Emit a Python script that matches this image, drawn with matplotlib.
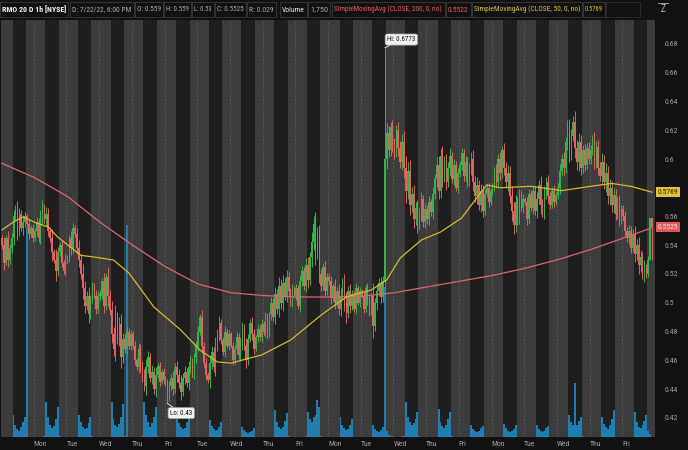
import matplotlib
matplotlib.use('Agg')
import matplotlib.pyplot as plt
from matplotlib import font_manager
from matplotlib.patches import Rectangle
from matplotlib.lines import Line2D
from matplotlib.transforms import blended_transform_factory
import numpy as np

# ---------------- data ----------------
day_names = ['Fri', 'Mon', 'Tue', 'Wed', 'Thu', 'Fri', 'Tue', 'Wed', 'Thu', 'Fri',
             'Mon', 'Tue', 'Wed', 'Thu', 'Fri', 'Mon', 'Tue', 'Wed', 'Thu', 'Fri']

# hourly closes (thousandths of $), 17 slots per day: 6 pre, 7 regular, 4 after
c_0624 = [540, 528, 545, 530, 538, 545, 560, 565, 550, 562, 552, 556, 560, 555, 548, 552, 545]
c_0627 = [550, 556, 545, 560, 566, 558, 562, 550, 545, 535, 530, 522, 535, 540, 528, 522, 530]
c_0628 = [530, 545, 538, 552, 548, 538, 530, 520, 510, 498, 505, 492, 502, 512, 505, 496, 505]
c_0629 = [505, 515, 498, 518, 505, 495, 478, 468, 490, 475, 485, 462, 475, 468, 480, 470, 478]
c_0630 = [470, 460, 455, 468, 455, 450, 442, 455, 462, 448, 452, 440, 450, 456, 445, 452, 446]
c_0701 = [445, 435, 442, 448, 440, 455, 450, 444, 438, 448, 452, 444, 455, 460, 450, 462, 470]
c_0705 = [480, 490, 470, 458, 450, 446, 458, 466, 455, 470, 478, 486, 474, 466, 480, 470, 478]
c_0706 = [470, 460, 468, 476, 464, 472, 482, 470, 460, 475, 486, 478, 468, 476, 482, 476, 485]
c_0707 = [480, 490, 478, 492, 500, 490, 506, 496, 512, 500, 514, 505, 518, 508, 500, 510, 505]
c_0708 = [510, 498, 515, 522, 512, 526, 516, 532, 542, 555, 535, 548, 520, 512, 525, 508, 518]
c_0711 = [515, 503, 512, 500, 508, 496, 505, 514, 500, 493, 508, 498, 506, 496, 510, 500, 508]
c_0712 = [505, 496, 510, 502, 494, 505, 484, 500, 508, 514, 504, 515, 600, 618, 606, 622, 610]
c_0713 = [605, 620, 608, 598, 612, 594, 578, 592, 568, 576, 558, 566, 554, 562, 572, 556, 565]
c_0714 = [558, 570, 563, 576, 586, 596, 578, 602, 588, 598, 584, 594, 602, 586, 596, 580, 590]
c_0715 = [596, 604, 588, 598, 584, 594, 600, 584, 574, 582, 568, 578, 564, 576, 580, 570, 578]
c_0718 = [580, 592, 584, 600, 590, 606, 594, 584, 590, 574, 564, 554, 570, 558, 576, 566, 572]
c_0719 = [570, 558, 576, 566, 578, 564, 572, 582, 568, 564, 576, 584, 574, 568, 578, 570, 575]
c_0720 = [580, 592, 600, 594, 612, 622, 604, 616, 626, 608, 598, 612, 594, 606, 596, 608, 600]
c_0721 = [606, 614, 598, 608, 594, 588, 598, 584, 590, 574, 580, 568, 575, 562, 570, 558, 565]
c_0722 = [560, 550, 545, 550, 538, 548, 534, 540, 526, 532, 520, 524, 520, 530, 559, 552.5]
first_open = 545

# extra wick length beyond the body (thousandths), per hourly bar
w_0624 = [4, 9, 3, 8, 5, 6, 8, 5, 10, 6, 4, 8, 5, 3, 6, 4, 5]
w_0627 = [3, 6, 5, 7, 9, 4, 8, 6, 5, 10, 4, 12, 6, 4, 5, 3, 6]
w_0628 = [5, 3, 8, 6, 4, 7, 9, 6, 12, 8, 5, 10, 6, 4, 3, 6, 5]
w_0629 = [6, 4, 9, 5, 12, 6, 10, 8, 14, 6, 9, 12, 7, 5, 6, 4, 5]
w_0630 = [4, 6, 3, 7, 5, 8, 6, 10, 7, 5, 8, 6, 9, 4, 5, 3, 4]
w_0701 = [5, 3, 6, 4, 7, 5, 8, 6, 9, 5, 7, 4, 8, 6, 3, 5, 6]
w_0705 = [6, 4, 8, 5, 6, 3, 9, 7, 5, 10, 6, 8, 5, 4, 6, 3, 5]
w_0706 = [3, 5, 4, 6, 5, 7, 8, 5, 9, 6, 4, 7, 6, 3, 5, 4, 6]
w_0707 = [4, 6, 5, 3, 7, 5, 8, 6, 10, 7, 9, 5, 8, 6, 4, 5, 3]
w_0708 = [5, 4, 7, 6, 5, 8, 10, 6, 12, 9, 14, 8, 10, 6, 5, 7, 4]
w_0711 = [4, 6, 3, 7, 5, 8, 9, 5, 10, 12, 6, 8, 5, 4, 6, 3, 5]
w_0712 = [3, 5, 4, 6, 5, 4, 14, 6, 8, 5, 7, 6, 10, 12, 8, 6, 9]
w_0713 = [8, 6, 10, 7, 9, 12, 14, 10, 12, 8, 10, 7, 9, 6, 8, 5, 7]
w_0714 = [5, 7, 4, 8, 6, 9, 10, 8, 12, 7, 9, 6, 10, 5, 7, 4, 6]
w_0715 = [4, 6, 5, 7, 6, 5, 8, 10, 7, 9, 6, 8, 7, 5, 4, 6, 3]
w_0718 = [5, 4, 7, 6, 8, 5, 9, 7, 10, 8, 12, 10, 8, 6, 5, 4, 6]
w_0719 = [3, 6, 5, 4, 7, 5, 8, 6, 10, 7, 9, 6, 8, 5, 4, 6, 3]
w_0720 = [5, 7, 6, 8, 6, 9, 10, 8, 6, 12, 9, 10, 8, 6, 7, 5, 6]
w_0721 = [6, 5, 8, 7, 9, 6, 10, 8, 12, 9, 10, 8, 9, 7, 6, 8, 5]
w_0722 = [5, 6, 4, 7, 6, 5, 9, 7, 10, 8, 6, 9, 5, 4, 0, 0]

# hourly volume (thousand shares)
v_0624 = [0, 0, 1, 0, 2, 4, 220, 120, 80, 60, 100, 150, 200, 2100, 5, 0, 2]
v_0627 = [1, 0, 2, 1, 3, 6, 350, 200, 120, 90, 110, 180, 300, 8, 3, 1, 0]
v_0628 = [0, 1, 0, 2, 3, 5, 220, 150, 100, 80, 90, 140, 200, 6, 2, 0, 1]
v_0629 = [0, 0, 1, 1, 2, 4, 350, 180, 120, 100, 130, 200, 330, 7, 2120, 1, 0]
v_0630 = [1, 0, 0, 2, 3, 6, 350, 220, 150, 100, 140, 200, 300, 9, 3, 1, 0]
v_0701 = [0, 2, 1, 0, 2, 5, 220, 140, 100, 80, 90, 150, 200, 5, 2, 0, 1]
v_0705 = [0, 0, 1, 1, 2, 4, 170, 110, 80, 60, 70, 100, 150, 4, 1, 0, 0]
v_0706 = [0, 1, 0, 1, 1, 3, 100, 70, 50, 40, 50, 60, 90, 3, 1, 0, 1]
v_0707 = [0, 0, 1, 1, 2, 5, 270, 150, 100, 80, 100, 160, 240, 6, 2, 1, 0]
v_0708 = [1, 0, 1, 2, 3, 6, 250, 180, 150, 200, 220, 370, 300, 8, 2, 1, 0]
v_0711 = [0, 1, 0, 1, 2, 4, 200, 120, 90, 70, 80, 120, 180, 5, 1, 0, 1]
v_0712 = [0, 0, 1, 1, 2, 3, 120, 80, 60, 50, 70, 100, 1500, 60, 20, 10, 8]
v_0713 = [5, 3, 2, 4, 6, 10, 350, 200, 150, 120, 140, 180, 250, 8, 3, 1, 0]
v_0714 = [0, 1, 0, 1, 2, 5, 280, 150, 110, 90, 120, 180, 250, 6, 2, 0, 1]
v_0715 = [0, 0, 1, 0, 1, 3, 120, 80, 60, 50, 60, 90, 110, 3, 1, 0, 0]
v_0718 = [0, 1, 0, 1, 2, 3, 130, 90, 60, 50, 60, 80, 120, 4, 1, 0, 1]
v_0719 = [0, 0, 1, 1, 1, 3, 120, 80, 60, 50, 60, 90, 110, 3, 1, 0, 0]
v_0720 = [1, 0, 1, 2, 2, 5, 220, 150, 120, 540, 120, 160, 200, 6, 2, 1, 0]
v_0721 = [0, 1, 0, 1, 2, 4, 200, 130, 100, 80, 120, 180, 270, 5, 2, 0, 1]
v_0722 = [0, 0, 1, 1, 2, 5, 250, 150, 100, 90, 120, 160, 220, 60, 30, 1.75]

# notable extremes: bar index -> value
wick_hi = {199: 0.6773, 338: 0.559}
wick_lo = {86: 0.43, 338: 0.53}

# moving averages sampled at bar indices
sma200_bar = [0, 17, 34, 51, 68, 85, 102, 119, 136, 153, 170, 187, 204, 221, 238, 255, 272, 289, 306, 323, 338]
sma200_val = [0.597, 0.587, 0.574, 0.556, 0.540, 0.525, 0.513, 0.507, 0.505, 0.504, 0.504, 0.5045,
              0.507, 0.511, 0.515, 0.519, 0.524, 0.530, 0.537, 0.545, 0.5522]
sma50_bar = [0, 6, 11, 17, 24, 29, 41, 48, 58, 66, 79, 93, 103, 112, 119, 135, 150, 166, 179, 192,
             200, 207, 218, 228, 239, 246, 252, 259, 275, 291, 306, 317, 327, 338]
sma50_val = [0.5506, 0.5562, 0.5597, 0.556, 0.5527, 0.5457, 0.533, 0.5318, 0.5297, 0.5207, 0.497,
             0.481, 0.467, 0.4588, 0.458, 0.4637, 0.474, 0.4915, 0.504, 0.5089, 0.5158, 0.5311,
             0.5436, 0.5492, 0.559, 0.5715, 0.582, 0.580, 0.581, 0.578, 0.581, 0.583, 0.581, 0.5769]

price_ticks = [0.42, 0.44, 0.46, 0.48, 0.50, 0.52, 0.54, 0.56, 0.58, 0.60, 0.62, 0.64, 0.66, 0.68]

header_fields = [
    ('RMO 20 D 1h [NYSE]', 0, 68, '#f2f2f2', 'bold'),
    ('D: 7/22/22, 6:00 PM', 70, 134, '#a8a8a8', 'normal'),
    ('O: 0.559', 135, 163, '#a8a8a8', 'normal'),
    ('H: 0.559', 164, 191, '#a8a8a8', 'normal'),
    ('L: 0.53', 192, 214, '#a8a8a8', 'normal'),
    ('C: 0.5525', 215, 246, '#a8a8a8', 'normal'),
    ('R: 0.029', 247, 276, '#a8a8a8', 'normal'),
    ('Volume', 280, 307, '#e8e8e8', 'normal'),
    ('1,750', 308, 330, '#a8a8a8', 'normal'),
    ('SimpleMovingAvg (CLOSE, 200, 0, no)', 332, 445, '#e05a5f', 'normal'),
    ('0.5522', 446, 471, '#e05a5f', 'normal'),
    ('SimpleMovingAvg (CLOSE, 50, 0, no)', 472, 582, '#d9c23a', 'normal'),
    ('0.5769', 583, 605, '#d9c23a', 'normal'),
]

# ---------------- assemble ----------------
closes_days = [c_0624, c_0627, c_0628, c_0629, c_0630, c_0701, c_0705, c_0706, c_0707, c_0708,
               c_0711, c_0712, c_0713, c_0714, c_0715, c_0718, c_0719, c_0720, c_0721, c_0722]
wick_days = [w_0624, w_0627, w_0628, w_0629, w_0630, w_0701, w_0705, w_0706, w_0707, w_0708,
             w_0711, w_0712, w_0713, w_0714, w_0715, w_0718, w_0719, w_0720, w_0721, w_0722]
vol_days = [v_0624, v_0627, v_0628, v_0629, v_0630, v_0701, v_0705, v_0706, v_0707, v_0708,
            v_0711, v_0712, v_0713, v_0714, v_0715, v_0718, v_0719, v_0720, v_0721, v_0722]
SLOTS = 17
close, volume, wick, bar_x = [], [], [], []
for d, (cd, wd, vd) in enumerate(zip(closes_days, wick_days, vol_days)):
    for s, (c, w, v) in enumerate(zip(cd, wd, vd)):
        close.append(c / 1000.0)
        wick.append(w / 1000.0)
        volume.append(v)
        bar_x.append(d * SLOTS + s + 0.5)
close = np.array(close)
wick = np.array(wick)
volume = np.array(volume, dtype=float)
bar_x = np.array(bar_x)
opens = np.concatenate([[first_open / 1000.0], close[:-1]])
highs = np.maximum(opens, close) + wick * 0.6
lows = np.minimum(opens, close) - wick * 0.6
for i, h in wick_hi.items():
    highs[i] = h
for i, l in wick_lo.items():
    lows[i] = l

# ---------------- figure ----------------
W, H = 688, 450
BG = '#111111'
fig = plt.figure(figsize=(W / 100, H / 100), dpi=100, facecolor=BG)
avail = {f.name for f in font_manager.fontManager.ttflist}
UI = 'Liberation Sans Narrow' if 'Liberation Sans Narrow' in avail else (
    'Roboto Condensed' if 'Roboto Condensed' in avail else 'Roboto')
plt.rcParams['font.family'] = [UI, 'DejaVu Sans']

def fx(px):
    return px / W

def fy(py):
    return 1 - py / H

L_PX, R_PX, T_PX, B_PX = 1, 655, 20, 437
axv = fig.add_axes([fx(L_PX), fy(B_PX), (R_PX - L_PX) / W, (B_PX - T_PX) / H])
axv.set_facecolor('#3c3c3c')
n_days = len(closes_days)
axv.set_xlim(0, n_days * SLOTS)
axv.set_ylim(0, 4170)

# session shading
for d in range(n_days):
    axv.axvspan(d * SLOTS + 6, d * SLOTS + 13, color='#1e1e1e', lw=0, zorder=0)
    if d > 0:
        axv.axvline(d * SLOTS, color='#5e5e5e', lw=0.6, ls=(0, (2, 2)), zorder=1)

axv.bar(bar_x, volume, width=1.0, color='#1d7fae', lw=0, zorder=2)
axv.yaxis.set_visible(False)
axv.set_xticks([d * SLOTS for d in range(1, n_days)])
axv.set_xticklabels(day_names[1:])
axv.tick_params(axis='x', length=0, pad=3, labelsize=5.6, labelcolor='#a0a0a0')
for lbl in axv.get_xticklabels():
    lbl.set_ha('left')
for sp in axv.spines.values():
    sp.set_visible(False)

ax = axv.twinx()
ax.set_ylim(0.68 - (B_PX - 44) / 1437.5, 0.68 + (44 - T_PX) / 1437.5)
ax.set_xlim(0, n_days * SLOTS)
for sp in ax.spines.values():
    sp.set_visible(False)

up = close >= opens
GREEN, RED = '#2fb84a', '#e8605f'
cols = np.where(up, GREEN, RED)
ax.vlines(bar_x, lows, highs, colors=cols, lw=0.7, zorder=3)
body_h = np.maximum(np.abs(close - opens), 0.0008)
ax.bar(bar_x, body_h, bottom=np.minimum(opens, close), width=0.8, color=cols, lw=0, zorder=4)

ax.plot(np.array(sma200_bar) + 0.5, sma200_val, color='#d8676c', lw=0.9, zorder=5)
ax.plot(np.array(sma50_bar) + 0.5, sma50_val, color='#d6b92c', lw=0.9, zorder=6)

# price scale (the 0.58 label sits under the SMA bubble in the reference)
ax.set_yticks(price_ticks)
ax.set_yticklabels([('%.2f' % t).rstrip('0') if abs(t - 0.58) > 1e-9 else '' for t in price_ticks])
ax.tick_params(axis='y', length=0, pad=7, labelsize=5.6, labelcolor='#a0a0a0')

# Hi / Lo bubbles
hi_i = int(np.argmax(highs))
lo_i = int(np.argmin(lows))
ax.annotate('Hi: %.4f' % highs[hi_i], xy=(bar_x[hi_i], highs[hi_i]), xytext=(12, 6),
            textcoords='offset points', ha='center', va='center', fontsize=5, color='#111111',
            bbox=dict(boxstyle='round,pad=0.3', fc='#f2f2f2', ec='#9a9a9a', lw=0.5),
            arrowprops=dict(arrowstyle='-', color='#e0e0e0', lw=0.7, shrinkA=0, shrinkB=0), zorder=8)
ax.annotate('Lo: %.2f' % lows[lo_i], xy=(bar_x[lo_i], lows[lo_i]), xytext=(10, -7),
            textcoords='offset points', ha='center', va='center', fontsize=5, color='#111111',
            bbox=dict(boxstyle='round,pad=0.3', fc='#f2f2f2', ec='#9a9a9a', lw=0.5),
            arrowprops=dict(arrowstyle='-', color='#e0e0e0', lw=0.7, shrinkA=0, shrinkB=0), zorder=8)

# right-side value bubbles
trans = blended_transform_factory(ax.transAxes, ax.transData)
ax.text(1.004, sma50_val[-1], '%.4f' % sma50_val[-1], transform=trans, ha='left', va='center',
        fontsize=5.4, color='#2a2400', clip_on=False, zorder=9,
        bbox=dict(boxstyle='square,pad=0.2', fc='#e2c52e', ec='none'))
ax.text(1.004, close[-1], '%.4f' % close[-1], transform=trans, ha='left', va='center',
        fontsize=5.4, color='#ffe0e0', clip_on=False, zorder=9,
        bbox=dict(boxstyle='square,pad=0.2', fc='#e0595e', ec='none'))

# header bar
fig.patches.append(Rectangle((0, fy(T_PX)), 1, T_PX / H, transform=fig.transFigure,
                             fc=BG, ec='none', zorder=10))
renderer = fig.canvas.get_renderer()
for txt, x0, x1, col, wt in header_fields:
    fig.patches.append(Rectangle((fx(x0), fy(17)), (x1 - x0) / W, 15 / H, transform=fig.transFigure,
                                 fill=False, ec='#3a3a3a', lw=0.6, zorder=11))
    t = fig.text(fx(x0 + 2), fy(9.5), txt, color=col, fontweight=wt, fontsize=6,
                 ha='left', va='center', zorder=12)
    w = t.get_window_extent(renderer).width
    target = x1 - x0 - 4
    t.set_fontsize(min(6.4, 6 * target / w))
fig.patches.append(Rectangle((fx(606), fy(17)), (640 - 606) / W, 15 / H, transform=fig.transFigure,
                             fill=False, ec='#2e2e2e', lw=0.6, zorder=11))
# small toolbar glyph at top right
fig.text(fx(663), fy(9), 'Z', color='#b0b0b0', fontsize=7, ha='center', va='center', zorder=12)
fig.lines.append(Line2D([fx(658), fx(668)], [fy(2.5), fy(2.5)], transform=fig.transFigure,
                        color='#b0b0b0', lw=0.6, zorder=12))

fig.savefig('out.png', dpi=100, facecolor=BG)
